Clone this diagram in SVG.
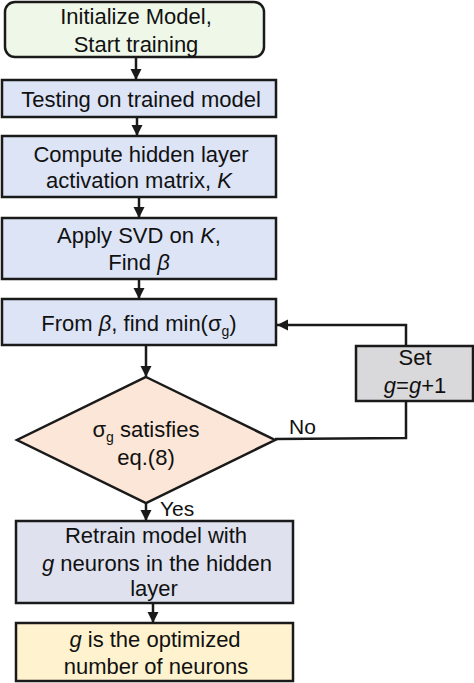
<svg xmlns="http://www.w3.org/2000/svg" width="474" height="683" viewBox="0 0 474 683">
<style>
  .box { stroke: #1a1a1a; stroke-width: 2.5; }
  .t { font-family: "Liberation Sans", Arial, sans-serif; font-size: 22px; fill: #111; text-anchor: middle; }
  .lbl { font-family: "Liberation Sans", Arial, sans-serif; font-size: 21px; fill: #111; }
  .sub { font-size: 14px; }
  .conn { stroke: #1a1a1a; stroke-width: 2.5; fill: none; }
</style>
<defs>
  <marker id="arr" markerUnits="userSpaceOnUse" markerWidth="12" markerHeight="12" viewBox="0 0 12 12" refX="11" refY="6" orient="auto">
    <path d="M0,0.5 L11,6 L0,11.5 Z" fill="#1a1a1a"/>
  </marker>
</defs>
<rect width="474" height="683" fill="#ffffff"/>

<g id="connectors">
  <line class="conn" x1="136" y1="57" x2="136" y2="80" marker-end="url(#arr)"/>
  <line class="conn" x1="137" y1="117" x2="137" y2="136" marker-end="url(#arr)"/>
  <line class="conn" x1="139" y1="197" x2="139" y2="218" marker-end="url(#arr)"/>
  <line class="conn" x1="139" y1="279" x2="139" y2="299" marker-end="url(#arr)"/>
  <line class="conn" x1="146" y1="345" x2="146" y2="377" marker-end="url(#arr)"/>
  <line class="conn" x1="146" y1="503" x2="146" y2="521" marker-end="url(#arr)"/>
  <line class="conn" x1="153" y1="603" x2="153" y2="623" marker-end="url(#arr)"/>
  <polyline class="conn" points="275,439 406,438 406,401"/>
  <polyline class="conn" points="406,346 406,325 277,325" marker-end="url(#arr)"/>
  <text class="lbl" x="289" y="434">No</text>
  <text class="lbl" x="160" y="516">Yes</text>
</g>

<g id="n1">
  <rect class="box" x="5" y="2" width="259" height="55" rx="10" fill="#eff7e9"/>
  <text class="t" x="136" y="24">Initialize Model,</text>
  <text class="t" x="136" y="52">Start training</text>
</g>

<g id="n2">
  <rect class="box" x="2" y="80" width="274" height="37" fill="#dce4f6"/>
  <text class="t" x="141" y="107">Testing on trained model</text>
</g>

<g id="n3">
  <rect class="box" x="2" y="136" width="274" height="61" fill="#dce4f6"/>
  <text class="t" x="141" y="162">Compute hidden layer</text>
  <text class="t" x="139" y="188">activation matrix,<tspan font-style="italic"> K</tspan></text>
</g>

<g id="n4">
  <rect class="box" x="2" y="218" width="274" height="61" fill="#dce4f6"/>
  <text class="t" x="139" y="243">Apply SVD on <tspan font-style="italic">K</tspan>,</text>
  <text class="t" x="139" y="270">Find <tspan font-style="italic">β</tspan></text>
</g>

<g id="n5">
  <rect class="box" x="2" y="299" width="274" height="46" fill="#dce4f6"/>
  <text class="t" x="139" y="331">From <tspan font-style="italic">β</tspan>, find min(σ<tspan class="sub" dy="5">g</tspan><tspan dy="-5">)</tspan></text>
</g>

<g id="n6">
  <polygon class="box" points="146,377 275,440 146,503 17,440" fill="#fbe6d7"/>
  <text class="t" x="146" y="437">σ<tspan class="sub" dy="5">g</tspan><tspan dy="-5"> satisfies</tspan></text>
  <text class="t" x="146" y="465">eq.(8)</text>
</g>

<g id="n7">
  <rect class="box" x="356" y="346" width="117" height="55" fill="#d9d8da"/>
  <text class="t" x="415" y="365">Set</text>
  <text class="t" x="415" y="393"><tspan font-style="italic">g</tspan>=<tspan font-style="italic">g</tspan>+1</text>
</g>

<g id="n8">
  <rect class="box" x="16" y="521" width="277" height="82" fill="#dfe2ee"/>
  <text class="t" x="156" y="543">Retrain model with</text>
  <text class="t" x="157" y="571"><tspan font-style="italic">g</tspan> neurons in the hidden</text>
  <text class="t" x="154" y="596">layer</text>
</g>

<g id="n9">
  <rect class="box" x="16" y="623" width="277" height="58" fill="#fff3cf"/>
  <text class="t" x="155" y="647"><tspan font-style="italic">g</tspan> is the optimized</text>
  <text class="t" x="156" y="674">number of neurons</text>
</g>
</svg>
